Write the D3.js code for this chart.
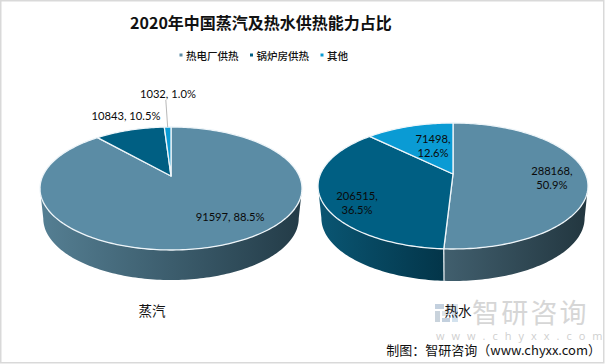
<!DOCTYPE html>
<html>
<head>
<meta charset="utf-8">
<script src="https://cdnjs.cloudflare.com/ajax/libs/d3/7.8.5/d3.min.js"></script>
<style>
  html, body { margin: 0; padding: 0; background: #fff; }
  svg { display: block; }
  text { font-family: "Noto Sans CJK SC", sans-serif; fill: #111; }
  .num { font-family: Lato, "Noto Sans CJK SC", sans-serif; font-size: 11.2px; fill: #0a0a0a; }
</style>
</head>
<body>
<div id="chart"></div>
<script>
// 2020 steam and hot water heating capacity share

const titleText = "2020年中国蒸汽及热水供热能力占比";
const categories = ["热电厂供热", "锅炉房供热", "其他"];
const steamValues = [91597, 10843, 1032];
const waterValues = [288168, 206515, 71498];
const pieNames = ["蒸汽", "热水"];
const sourceText = "制图：智研咨询（www.chyxx.com）";

const colors = ["#5b8ca5", "#005f83", "#0a9bd4"];
// wall gradient, left end to right end
const steamWall = [["#557f93", "#233b47"], ["#0a5a78", "#033a50"], ["#0a7fae", "#06628a"]];
const waterWall = [["#415f6e", "#22363f"], ["#0a5673", "#033549"], ["#0a7fae", "#06628a"]];

const width = 606;
const height = 364;

const svg = d3.select("#chart").append("svg")
    .attr("width", width)
    .attr("height", height);

const defs = svg.append("defs");

svg.append("rect")
    .attr("x", 0.75).attr("y", 0.75)
    .attr("width", 603).attr("height", 362)
    .attr("fill", "#fff")
    .attr("stroke", "#d9d9d9")
    .attr("stroke-width", 1.5);

// watermark goes under everything else
const mark = svg.append("g");
[[435, 304, 9, 5, "#c3d0de"], [446, 304, 12, 5, "#dfe5ea"], [435, 311, 5, 11, "#c9d3dc"],
 [442, 311, 8, 5, "#dfe5ea"], [452, 309, 6, 13, "#d3e2ee"], [442, 318, 8, 4, "#c3d0de"]]
    .forEach(d => {
        mark.append("rect")
            .attr("x", d[0]).attr("y", d[1])
            .attr("width", d[2]).attr("height", d[3])
            .attr("fill", d[4]);
    });
mark.append("text")
    .attr("x", 472).attr("y", 323)
    .attr("font-size", 27)
    .style("letter-spacing", "2.2px")
    .style("fill", "#d6d6d6")
    .text("智研咨询");
mark.append("text")
    .attr("x", 436).attr("y", 340)
    .attr("font-size", 11)
    .style("font-family", "'Open Sans', sans-serif")
    .style("letter-spacing", "7px")
    .style("fill", "#cfcfcf")
    .text("www.chyxx.com");

svg.append("text")
    .attr("x", 261).attr("y", 28.5)
    .attr("text-anchor", "middle")
    .attr("font-size", 16)
    .attr("font-weight", 700)
    .text(titleText);

// legend
const legendX = [179.5, 250, 320.5];
categories.forEach((c, i) => {
    svg.append("rect")
        .attr("x", legendX[i]).attr("y", 53.5)
        .attr("width", 3).attr("height", 3)
        .attr("fill", colors[i]);
    svg.append("text")
        .attr("x", legendX[i] + 6.5).attr("y", 59.5)
        .attr("font-size", 10.5)
        .attr("font-weight", 500)
        .text(c);
});

const pieLayout = d3.pie().sort(null).value(d => d)
    .startAngle(0).endAngle(2 * Math.PI);
const pct = d3.format(".1%");
const pathLine = d3.line().curve(d3.curveLinear);

// Ellipse seen in perspective: the centre of the disc is not the centre of the
// ellipse. top/bottom are the ellipse extremes, hub is where the slices meet.
function makeProjection(cx, rx, top, bottom, hub) {
    const c = (2 * hub - top - bottom) / (bottom - top);
    const a = bottom * (1 + c) - hub;
    const k = rx * Math.sqrt(1 - c * c);
    return function (angle, r) {
        const u = Math.sin(angle) * r;
        const v = -Math.cos(angle) * r;
        const w = 1 + c * v;
        return [cx + k * u / w, (a * v + hub) / w];
    };
}

function arcPoints(project, a0, a1) {
    const n = Math.max(2, Math.ceil((a1 - a0) / 0.02));
    return d3.range(n + 1).map(i => project(a0 + (a1 - a0) * i / n, 1));
}

function drawPie(opt) {
    const g = svg.append("g");
    const project = makeProjection(opt.cx, opt.rx, opt.top, opt.bottom, opt.hub);
    const slices = pieLayout(opt.values);
    const total = d3.sum(opt.values);

    // only the front part of the rim shows a wall
    const c = (2 * opt.hub - opt.top - opt.bottom) / (opt.bottom - opt.top);
    const frontStart = Math.acos(c);
    const frontEnd = 2 * Math.PI - frontStart;

    const lower = p => [opt.cx + (p[0] - opt.cx) * opt.wallScale, p[1] + opt.depth];

    slices.forEach((s, i) => {
        const a0 = Math.max(s.startAngle, frontStart);
        const a1 = Math.min(s.endAngle, frontEnd);
        if (a1 <= a0) return;
        const upperPts = arcPoints(project, a0, a1);
        const lowerPts = upperPts.map(lower).reverse();
        const xs = upperPts.map(p => p[0]);
        const id = "wall-" + opt.id + "-" + i;
        const grad = defs.append("linearGradient")
            .attr("id", id)
            .attr("gradientUnits", "userSpaceOnUse")
            .attr("x1", d3.min(xs)).attr("x2", d3.max(xs))
            .attr("y1", 0).attr("y2", 0);
        grad.append("stop").attr("offset", 0).attr("stop-color", opt.wall[i][0]);
        grad.append("stop").attr("offset", 1).attr("stop-color", opt.wall[i][1]);
        g.append("path")
            .attr("d", pathLine(upperPts.concat(lowerPts)) + "Z")
            .attr("fill", "url(#" + id + ")");
    });

    // white seam where two walls meet
    slices.forEach(s => {
        if (s.startAngle > frontStart && s.startAngle < frontEnd) {
            const p = project(s.startAngle, 1);
            g.append("path")
                .attr("d", pathLine([p, lower(p)]))
                .attr("stroke", "#f2f7fa")
                .attr("stroke-width", 1.2);
        }
    });

    slices.forEach((s, i) => {
        const hub = project(0, 0);
        const pts = [hub].concat(arcPoints(project, s.startAngle, s.endAngle));
        g.append("path")
            .attr("d", pathLine(pts) + "Z")
            .attr("fill", colors[i])
            .attr("stroke", "#eef5f9")
            .attr("stroke-width", 1.3)
            .attr("stroke-linejoin", "round");
    });

    if (opt.leader !== undefined) {
        const s = slices[opt.leader];
        const mid = (s.startAngle + s.endAngle) / 2;
        g.append("path")
            .attr("d", pathLine([project(mid, 1), project(mid, opt.leaderR)]))
            .attr("stroke", "#a6a6a6")
            .attr("stroke-width", 0.8);
    }

    slices.forEach((s, i) => {
        const p = project(opt.labelAngle[i] * Math.PI / 180, opt.labelR[i]);
        const share = pct(s.value / total);
        const t = g.append("text")
            .attr("class", "num")
            .attr("text-anchor", "middle")
            .attr("y", p[1] + 4);
        if (opt.wrap) {
            t.append("tspan").attr("x", p[0]).attr("dy", "-0.6em").text(s.value + ",");
            t.append("tspan").attr("x", p[0]).attr("dy", "1.25em").text(share);
        } else {
            t.attr("x", p[0]).text(s.value + ", " + share);
        }
    });

    svg.append("text")
        .attr("x", opt.nameX).attr("y", 316)
        .attr("text-anchor", "middle")
        .attr("font-size", 13.5)
        .text(opt.name);
}

drawPie({
    id: "steam", name: pieNames[0], nameX: 152, values: steamValues, wall: steamWall,
    cx: 171, rx: 131, top: 127, bottom: 250, hub: 176, depth: 30, wallScale: 0.975,
    labelAngle: [146.4, 341, 359], labelR: [0.73, 1.36, 1.94], leader: 2, leaderR: 1.75
});

drawPie({
    id: "water", name: pieNames[1], nameX: 458, values: waterValues, wall: waterWall,
    cx: 453, rx: 135, top: 123, bottom: 249, hub: 174, depth: 32, wallScale: 0.975,
    labelAngle: [95, 236.6, 341.9], labelR: [0.74, 0.795, 0.531], wrap: true
});

svg.append("text")
    .attr("x", 601).attr("y", 355)
    .attr("text-anchor", "end")
    .attr("font-size", 13)
    .text(sourceText);
</script>
</body>
</html>
